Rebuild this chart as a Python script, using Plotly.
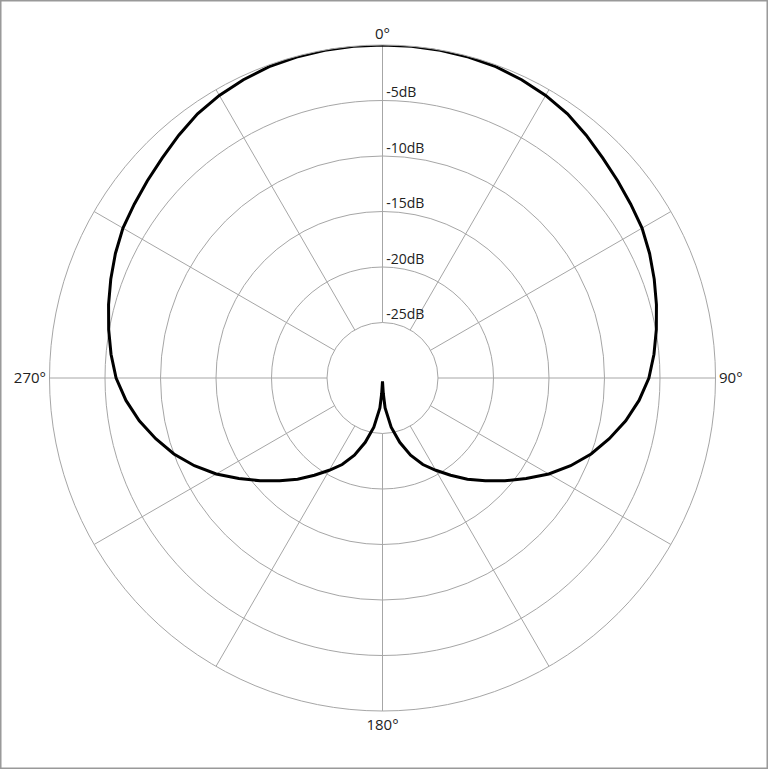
import plotly.graph_objects as go

# polar pattern (right half, mirrored for the left)
angles_half = [0, 5, 10, 15, 20, 25, 30, 35, 40, 45, 50, 55, 60, 65, 70, 75, 80, 85, 90,
               95, 100, 105, 110, 115, 120, 125, 130, 135, 140, 145, 150, 155, 160, 165,
               170, 175, 177, 180]
level_half = [0, 0, -0.02, -0.06, -0.15, -0.35, -0.6, -0.95, -1.45, -1.95, -2.35, -2.7, -3.0,
              -3.45, -3.95, -4.45, -4.95, -5.45, -6.0, -6.8, -7.75, -8.85, -10.0, -11.3, -12.7,
              -14.2, -15.6, -16.9, -18.1, -19.3, -20.4, -21.4, -22.6, -24.0, -25.5, -27.3,
              -28.6, -29.7]

ring_levels = [-25, -20, -15, -10, -5]
ring_labels = ['-25dB', '-20dB', '-15dB', '-10dB', '-5dB']
spoke_angles = [0, 30, 60, 90, 120, 150, 180, 210, 240, 270, 300, 330]
angle_labels = ['0°', '', '', '90°', '', '', '180°', '', '', '270°', '', '']

GRID = '#a6a6a6'
W, H = 768, 769

theta = angles_half + [360 - a for a in reversed(angles_half[:-1])]
r = level_half + list(reversed(level_half[:-1]))

# spokes start at the innermost ring
sp_r, sp_t = [], []
for a in spoke_angles:
    sp_r += [ring_levels[0], 0, None]
    sp_t += [a, a, None]

fig = go.Figure()
fig.add_trace(go.Scatterpolar(r=sp_r, theta=sp_t, mode='lines',
                              line=dict(color=GRID, width=1), hoverinfo='skip'))
fig.add_trace(go.Scatterpolar(r=r, theta=theta, mode='lines',
                              line=dict(color='black', width=3)))
fig.add_trace(go.Scatterpolar(r=ring_levels, theta=[0] * len(ring_levels), mode='text',
                              text=[' ' + t for t in ring_labels], textposition='top right',
                              textfont=dict(family='Open Sans', size=14, color='#222')))

fig.update_layout(
    width=W, height=H,
    margin=dict(l=0, r=0, t=0, b=0),
    paper_bgcolor='white',
    showlegend=False,
    polar=dict(
        domain=dict(x=[49.5 / W, 715.5 / W], y=[1 - 711 / H, 1 - 45 / H]),
        bgcolor='white',
        angularaxis=dict(rotation=90, direction='clockwise', tickvals=spoke_angles,
                         ticktext=angle_labels, showgrid=False, ticks='',
                         showline=True, linecolor=GRID, linewidth=1,
                         tickfont=dict(family='Open Sans', size=15, color='#222')),
        radialaxis=dict(range=[-30, 0], tickvals=ring_levels + [0], showticklabels=False,
                        ticks='', showline=False, gridcolor=GRID, gridwidth=1),
    ),
    shapes=[dict(type='rect', xref='paper', yref='paper', x0=0.001, x1=0.999, y0=0.001, y1=0.999,
                 line=dict(color='#999', width=1.5))],
)

# page body has a default 8px margin, drop it so the figure sits at the window corner
fig.write_html("out.html", config={'displayModeBar': False},
               post_script="document.body.style.margin='0';document.body.style.overflow='hidden';")
